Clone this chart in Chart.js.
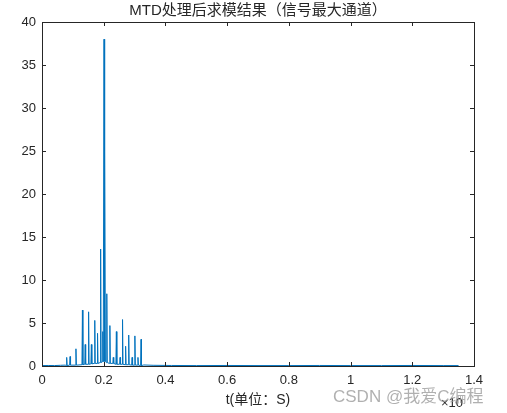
<!DOCTYPE html>
<html><head><meta charset="utf-8">
<script src="https://cdn.jsdelivr.net/npm/chart.js@4/dist/chart.umd.min.js"></script>
<style>html,body{margin:0;background:#fff}#wrap{width:507px;height:413px}</style>
</head><body><div id="wrap"><canvas id="c"></canvas></div>
<script>
// spike centres (x axis units) and peak heights
const spikeX = [0.080,0.091,0.110,0.131,0.140,0.151,0.160,0.171,0.180,0.190,0.197,0.201,0.204,0.210,0.220,0.231,0.241,0.253,0.261,0.271,0.281,0.292,0.301,0.311,0.321];
const spikeY = [1.0,1.1,2.0,6.5,2.5,6.3,2.5,5.3,3.8,13.6,4.0,38.0,25.0,8.4,4.7,1.0,4.0,1.0,5.4,2.3,3.6,1.0,3.5,1.0,3.1];
const spikeBase = [0.05,0.1,0.1,0.15,0.2,0.2,0.25,0.3,0.3,0.4,0.5,0.5,0.5,0.4,0.3,0.3,0.2,0.2,0.2,0.15,0.15,0.1,0.1,0.1,0.05];
// low floor before and after the burst
const headX = [0,0.02,0.04,0.06,0.075];
const headY = [0.05,0.06,0.05,0.08,0.1];
const tailX = [0.33,0.36,0.42,0.5,0.6,0.7,0.8,0.9,1.0,1.1,1.2,1.3,1.35];
const tailY = [0.12,0.08,0.06,0.05,0.06,0.05,0.05,0.06,0.05,0.05,0.06,0.05,0.05];
const xTicks = [0,0.2,0.4,0.6,0.8,1,1.2,1.4];
const yTicks = [0,5,10,15,20,25,30,35,40];

const pts = [];
headX.forEach((x,i)=>pts.push({x, y: headY[i]}));
spikeX.forEach((x,i)=>{
  pts.push({x: x-0.0015, y: spikeBase[i]});
  pts.push({x, y: spikeY[i]});
  pts.push({x: x+0.0015, y: spikeBase[i]});
});
tailX.forEach((x,i)=>pts.push({x, y: tailY[i]}));

const FONT = "'Liberation Sans', 'Noto Sans CJK SC', sans-serif";
const matlabBox = {
  id: 'matlabBox',
  afterDraw(chart) {
    const {ctx, chartArea: a, scales: {x, y}} = chart;
    ctx.save();
    ctx.strokeStyle = '#262626'; ctx.lineWidth = 1;
    ctx.strokeRect(a.left + 0.5, a.top + 0.5, a.right - a.left, a.bottom - a.top);
    ctx.beginPath();
    xTicks.forEach(v => {
      const p = Math.round(x.getPixelForValue(v)) + 0.5;
      ctx.moveTo(p, a.bottom); ctx.lineTo(p, a.bottom - 4);
      ctx.moveTo(p, a.top); ctx.lineTo(p, a.top + 4);
    });
    yTicks.forEach(v => {
      const p = Math.round(y.getPixelForValue(v)) + 0.5;
      ctx.moveTo(a.left, p); ctx.lineTo(a.left + 4, p);
      ctx.moveTo(a.right, p); ctx.lineTo(a.right - 4, p);
    });
    ctx.stroke();
    ctx.fillStyle = '#262626';
    ctx.font = '13px ' + FONT;
    ctx.textAlign = 'center'; ctx.textBaseline = 'middle';
    xTicks.forEach(v => ctx.fillText(String(v), x.getPixelForValue(v), a.bottom + 14));
    ctx.textAlign = 'right';
    yTicks.forEach(v => ctx.fillText(String(v), a.left - 6, y.getPixelForValue(v)));
    ctx.textAlign = 'center';
    ctx.font = '15px ' + FONT;
    ctx.fillText('MTD处理后求模结果（信号最大通道）', (a.left + a.right) / 2, 11);
    ctx.font = '14px ' + FONT;
    ctx.fillText('t(单位：S)', 258, 400);
    ctx.font = '13px ' + FONT;
    ctx.fillText('×10', 452, 403);
    ctx.font = '17px ' + FONT;
    ctx.fillStyle = 'rgba(150,150,150,0.75)';
    ctx.textAlign = 'left';
    ctx.fillText('CSDN @我爱C编程', 333, 397);
    ctx.restore();
  }
};

new Chart(document.getElementById('c'), {
  type: 'line',
  data: { datasets: [{ data: pts, borderColor: '#0072BD', borderWidth: 1, pointRadius: 0, tension: 0 }] },
  options: {
    responsive: true, maintainAspectRatio: false, animation: false,
    layout: { padding: { top: 22, right: 33, left: 0, bottom: 0 } },
    plugins: { legend: { display: false }, tooltip: { enabled: false } },
    scales: {
      x: { type: 'linear', min: 0, max: 1.4,
        grid: { display: false }, border: { display: false }, ticks: { display: false },
        afterFit: s => { s.height = 47; } },
      y: { min: 0, max: 40,
        grid: { display: false }, border: { display: false }, ticks: { display: false },
        afterFit: s => { s.width = 42; } }
    }
  },
  plugins: [matlabBox]
});
</script></body></html>
